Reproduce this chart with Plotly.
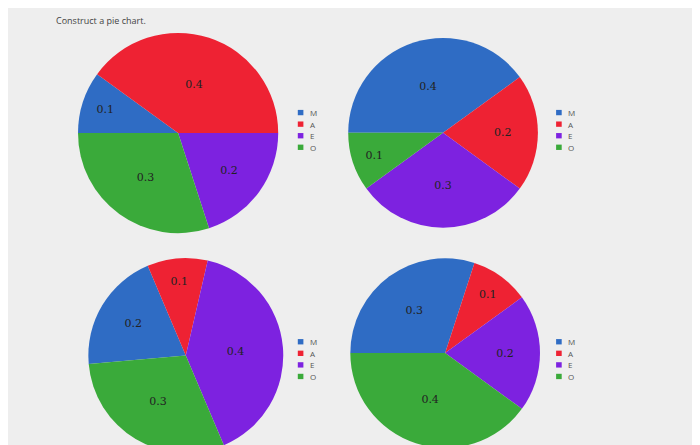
import plotly.graph_objects as go

labels = ["M", "A", "E", "O"]
vals1 = [0.1, 0.4, 0.2, 0.3]
vals2 = [0.4, 0.2, 0.3, 0.1]
vals3 = [0.2, 0.1, 0.4, 0.3]
vals4 = [0.3, 0.1, 0.2, 0.4]
colors = ["#2f6cc4", "#ee2233", "#7d22e0", "#3aaa3a"]

specs = [
    (vals1, [0.100, 0.386], [0.494, 0.944], 270, (0.414, 0.765)),
    (vals2, [0.486, 0.757], [0.506, 0.933], 270, (0.783, 0.765)),
    (vals3, [0.111, 0.397], [0.0, 0.438], 265, (0.414, 0.25)),
    (vals4, [0.489, 0.760], [0.011, 0.438], 270, (0.783, 0.25)),
]

fig = go.Figure()
shapes, annots = [], []
for v, dx, dy, rot, (lx, ly) in specs:
    fig.add_trace(go.Pie(labels=labels, values=v, sort=False, direction="clockwise",
                         rotation=rot, domain=dict(x=dx, y=dy), showlegend=False,
                         marker=dict(colors=colors), texttemplate="%{value}",
                         textposition="inside",
                         textfont=dict(family="DejaVu Serif", size=11, color="#222222"),
                         hoverinfo="label+value"))
    for i, (lab, c) in enumerate(zip(labels, colors)):
        yy = ly - i * 0.026
        shapes.append(dict(type="rect", xref="paper", yref="paper",
                           x0=lx, x1=lx + 0.008, y0=yy - 0.006, y1=yy + 0.006,
                           fillcolor=c, line=dict(width=0)))
        annots.append(dict(text=lab, x=lx + 0.014, y=yy, xref="paper", yref="paper",
                           xanchor="left", yanchor="middle", showarrow=False,
                           font=dict(size=8, color="#555555")))

annots.append(dict(text="Construct a pie chart.", x=0.065, y=0.99, xref="paper", yref="paper",
                   xanchor="left", yanchor="top", showarrow=False,
                   font=dict(size=9, color="#444444")))
fig.update_layout(
    width=700, height=445, margin=dict(l=0, r=0, t=0, b=0),
    paper_bgcolor="#eeeeee", shapes=shapes, annotations=annots,
)
fig.write_html("out.html")
